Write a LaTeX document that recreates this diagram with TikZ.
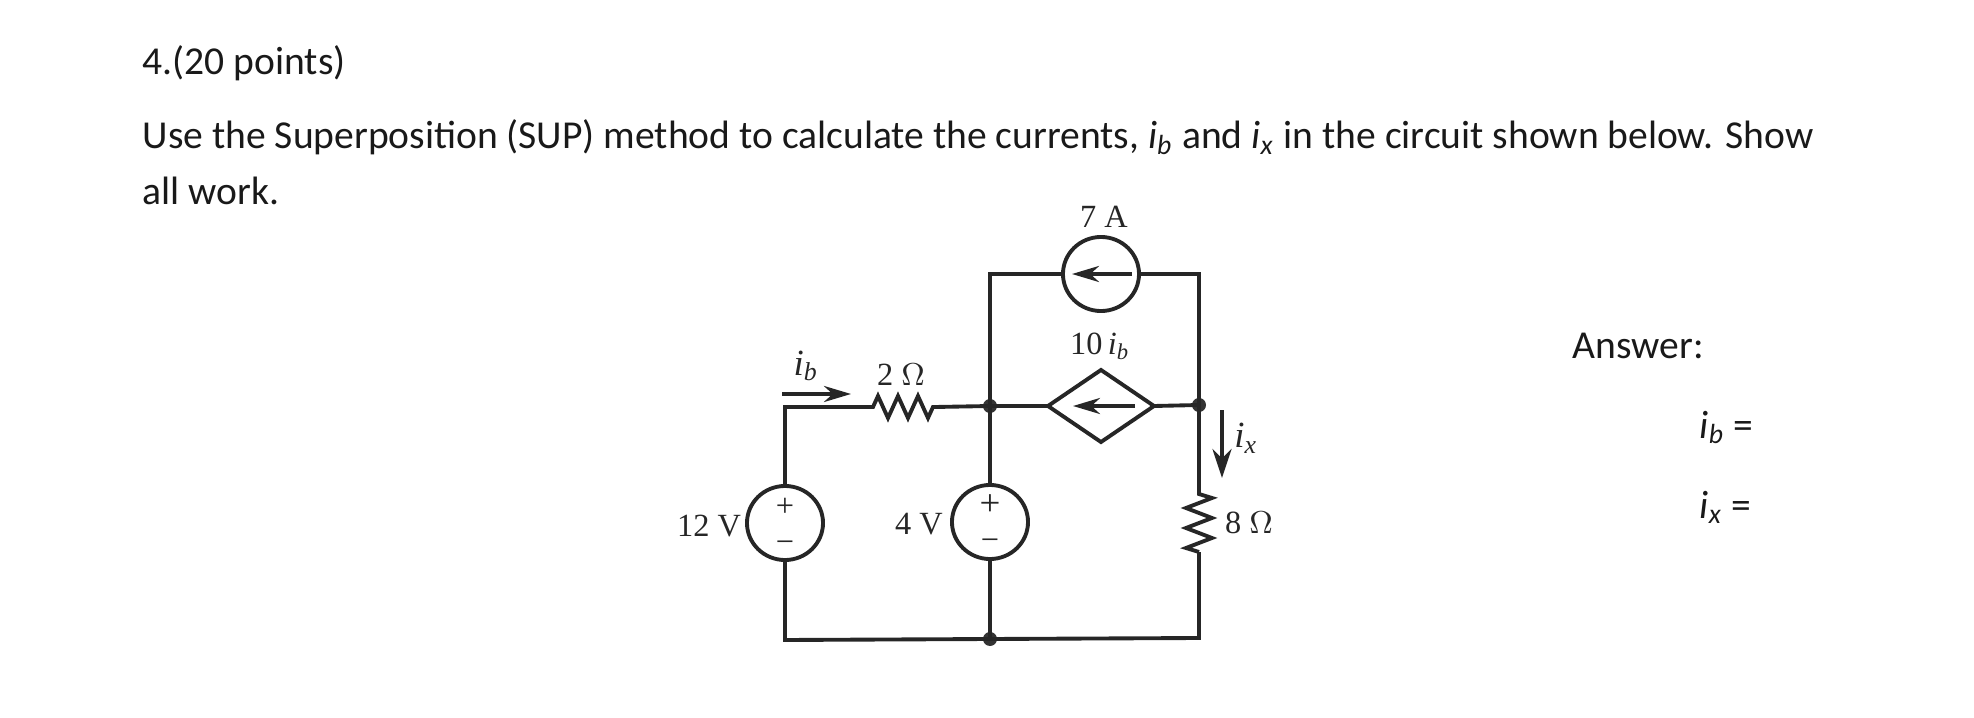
\documentclass[tikz,border=0pt]{standalone}
\usepackage{fontspec}
\setmainfont{Carlito}
\newfontfamily\cktfont{Liberation Serif}
\usetikzlibrary{arrows.meta,calc,shapes.geometric}

\begin{document}
\begin{tikzpicture}[x=0.01cm,y=-0.01cm, >={Stealth[length=2.7mm,width=1.6mm]},
    wire/.style={line width=1.1pt,black!85},
    txt/.style={inner sep=0pt,anchor=base west,font=\fontsize{11.25}{13}\selectfont,black!90},
    lbl/.style={inner sep=0pt,font=\cktfont\fontsize{9.2}{11}\selectfont,black!85},
    curlbl/.style={lbl,font=\cktfont\fontsize{10.5}{11}\selectfont},
    src/.style={wire,draw,ellipse,inner sep=0pt,outer sep=0pt,minimum width=.76cm,minimum height=.74cm},
    depsrc/.style={wire,draw,diamond,inner sep=0pt,outer sep=0pt,minimum width=1.06cm,minimum height=.72cm}]
  \useasboundingbox (0,0) rectangle (1974,718);
  % question text
  \node[txt] (head) at (142,74) {4.(20 points)};
  \node[txt] (line1) at (142,149) {Use the Superposition (SUP) method to calculate the currents, \textit{i}\textsubscript{\textit{b}} and \textit{i}\textsubscript{\textit{x}} in the circuit shown below. Show};
  \node[txt] (line2) at (142,205) {all work.};
  \node[txt] (answer) at (1572,358) {Answer:};
  \node[txt] (ansb) at (1699,438) {\textit{i}\textsubscript{\textit{b}} =};
  \node[txt] (ansx) at (1699,518) {\textit{i}\textsubscript{\textit{x}} =};
  % sources
  \node[src] (S12) at (785,523) {};
  \node[src] (S4) at (990,522) {};
  \node[src] (S7) at (1101,274) {};
  \node[depsrc] (S10) at (1101,406) {};
  % junctions
  \fill[black!80] (990,406) coordinate (M) circle(7);
  \fill[black!80] (1199,405) coordinate (R) circle(7);
  \fill[black!80] (990,639) coordinate (G) circle(7);
  \coordinate (TL) at (990,274);
  \coordinate (TR) at (1199,274);
  \coordinate (BL) at (785,640);
  \coordinate (BR) at (1199,638);
  \coordinate (A) at (785,407);
  \coordinate (R2a) at (870,407);
  \coordinate (R2b) at (935,407);
  \coordinate (R8a) at (1199,492);
  \coordinate (R8b) at (1199,552);
  % wires
  \draw[wire] (S12.north) -- (A) -- (R2a);
  \draw[wire] (R2b) -- (M);
  \draw[wire] (M) -- (S10.west);
  \draw[wire] (S10.east) -- (R);
  \draw[wire] (S4.north) -- (M) -- (TL) -- (S7.west);
  \draw[wire] (S7.east) -- (TR) -- (R) -- (R8a);
  \draw[wire] (R8b) -- (BR) -- (G) -- (BL) -- (S12.south);
  \draw[wire] (S4.south) -- (G);
  % resistors
  \draw[wire] (R2a) -- ++(3,0) -- ++(5,-11) -- ++(10,22) -- ++(10,-22) -- ++(10,22)
    -- ++(10,-22) -- ++(10,22) -- ++(5,-11) -- (R2b);
  \draw[wire] (R8a) -- ++(0,2) -- ++(13,4) -- ++(-26,10) -- ++(26,10) -- ++(-26,10)
    -- ++(26,10) -- ++(-26,10) -- ++(13,4) -- (R8b);
  % arrows
  \draw[wire,->] ($(S7)+(31,0)$) -- ($(S7)+(-29,0)$);
  \draw[wire,->] ($(S10)+(34,0)$) -- ($(S10)+(-28,0)$);
  \draw[wire,->] (782,394) -- (851,394);
  \draw[wire,-{Stealth[length=2.9mm,width=1.9mm]}] (1222,410) -- (1222,478);
  % labels
  \node[lbl] (l7) at (1104,217) {7 A};
  \node[lbl] (l10) at (1100,346) {10\,\textit{i}\textsubscript{\textit{b}}};
  \node[curlbl] (lb) at (806,366) {\textit{i}\textsubscript{\textit{b}}};
  \node[lbl] (l2) at (901,375) {2 $\Omega$};
  \node[curlbl] (lx) at (1246,438) {\textit{i}\textsubscript{\textit{x}}};
  \node[lbl] (l12) at (709,526) {12 V};
  \node[lbl] (l4) at (919,524) {4 V};
  \node[lbl] (l8) at (1249,523) {8 $\Omega$};
  \node[lbl] (p12) at (785,507) {+};
  \node[lbl] (m12) at (785,547) {\textminus};
  \node[curlbl] (p4) at (990,505) {+};
  \node[lbl] (m4) at (990,545) {\textminus};
\end{tikzpicture}
\end{document}
